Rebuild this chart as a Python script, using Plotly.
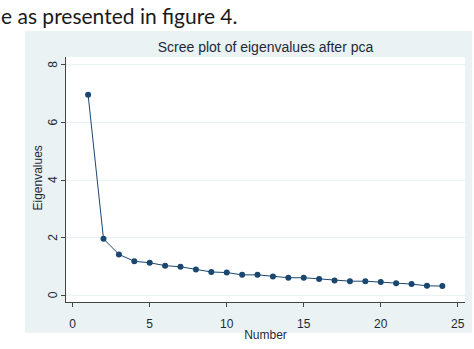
import plotly.graph_objects as go

# Eigenvalues from the principal component analysis, one per component
component = list(range(1, 25))
eigenvalues = [6.96, 1.96, 1.42, 1.18, 1.13, 1.03, 0.99, 0.90, 0.81, 0.79,
               0.71, 0.71, 0.65, 0.61, 0.61, 0.57, 0.51, 0.49, 0.49, 0.46,
               0.42, 0.39, 0.33, 0.32]

x_ticks = [0, 5, 10, 15, 20, 25]
y_ticks = [0, 2, 4, 6, 8]

NAVY = "#1a476f"
FRAME = "#eaf2f3"
TEXT = "#1e2a36"
FONT = "Liberation Sans, Arial, sans-serif"

# plot-area size in pixels, used to place paper-referenced items
PW, PH = 399, 256

fig = go.Figure()
fig.add_trace(go.Scatter(
    x=component, y=eigenvalues, mode="lines+markers",
    line=dict(color=NAVY, width=1),
    marker=dict(color=NAVY, size=6),
    hoverinfo="skip", showlegend=False,
))

# Graph region (light frame) and white plot region behind the data
fig.add_shape(type="rect", xref="paper", yref="paper",
              x0=-0.103, x1=1.018, y0=-0.125, y1=1.106,
              fillcolor=FRAME, line_width=0, layer="below")
fig.add_shape(type="rect", xref="paper", yref="paper",
              x0=0, x1=1, y0=0, y1=1,
              fillcolor="white", line_width=0, layer="below")

annotations = [
    dict(text="e as presented in figure 4.", xref="paper", yref="paper",
         x=-66 / PW, xanchor="left", y=1 + 57 / PH, yanchor="top",
         showarrow=False, borderpad=0,
         font=dict(family="Lato, Carlito, sans-serif", size=21, color="#1a1a1a")),
    # y-axis title
    dict(text="Eigenvalues", xref="paper", yref="paper",
         x=-28 / PW, xanchor="center", y=(313 - 184) / PH, yanchor="middle",
         textangle=-90, showarrow=False, borderpad=0,
         font=dict(size=12, color=TEXT, family=FONT)),
]
# rotated y tick labels, Stata style
for v in y_ticks:
    annotations.append(dict(
        text=str(v), xref="paper", yref="y", x=-13 / PW, y=v,
        xanchor="center", yanchor="middle", textangle=-90,
        showarrow=False, borderpad=0,
        font=dict(size=12, color=TEXT, family=FONT)))

fig.update_layout(
    width=474, height=349,
    margin=dict(l=66, r=9, t=57, b=36),
    paper_bgcolor="white", plot_bgcolor="white",
    font=dict(family=FONT, color=TEXT, size=12),
    title=dict(text="Scree plot of eigenvalues after pca",
               x=(265.5 / 474), xanchor="center",
               y=1 - 47 / 349, yanchor="middle",
               font=dict(size=14, color=TEXT, family=FONT)),
    annotations=annotations,
)

fig.update_xaxes(
    range=[-0.435, 25.47], tickvals=x_ticks,
    showgrid=False, zeroline=False,
    showline=True, linecolor="#444", linewidth=1,
    ticks="outside", ticklen=4, tickcolor="#444",
    ticklabelstandoff=7,
    tickfont=dict(size=12, color=TEXT),
    title=dict(text="Number", font=dict(size=12, color=TEXT), standoff=0),
)
fig.update_yaxes(
    range=[-0.232, 8.27], tickvals=y_ticks, showticklabels=False,
    showgrid=True, gridcolor=FRAME, gridwidth=1, zeroline=False,
    showline=True, linecolor="#444", linewidth=1,
    ticks="outside", ticklen=4, tickcolor="#444",
)

fig.write_html("out.html")
